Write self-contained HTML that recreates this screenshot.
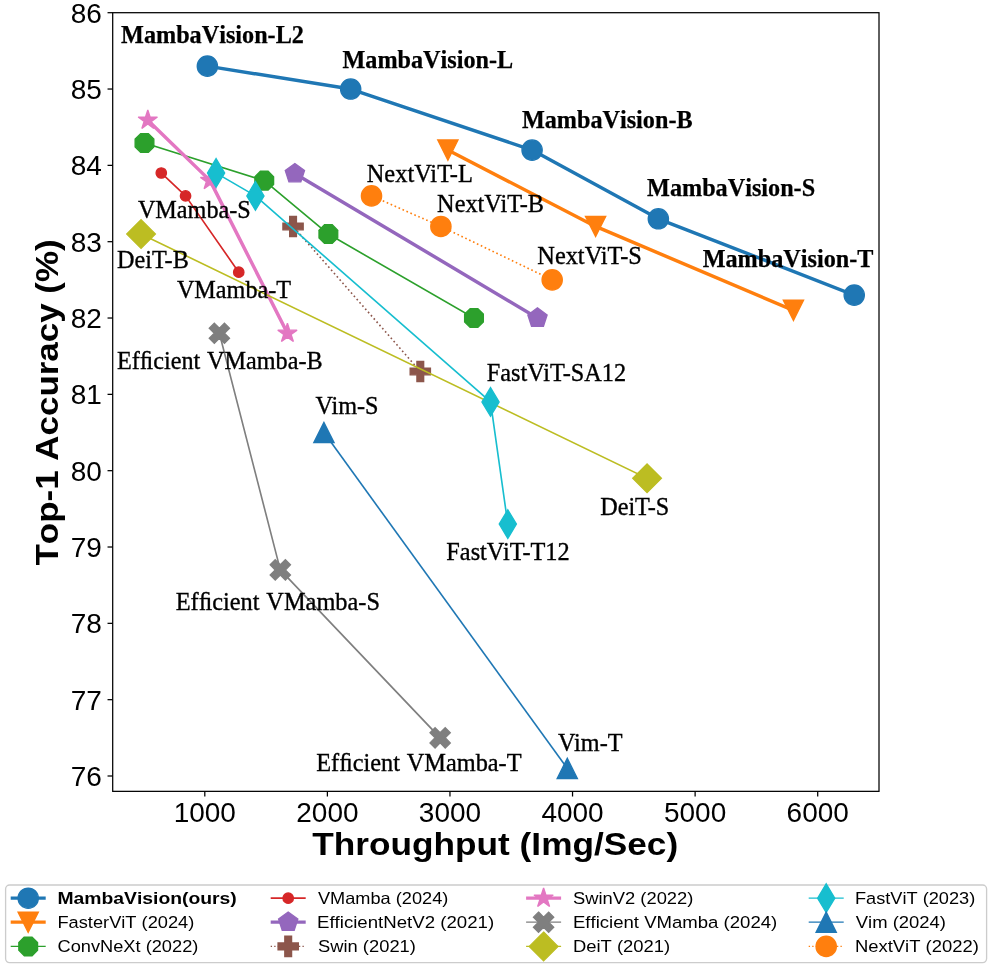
<!DOCTYPE html>
<html><head><meta charset="utf-8"><title>chart</title>
<style>html,body{margin:0;padding:0;background:#fff}svg{display:block;will-change:transform}text{white-space:pre;font-kerning:none}.k{font-kerning:normal;stroke:#000;stroke-width:0.35px}.kb{stroke:#000;stroke-width:0.25px}</style>
</head><body>
<svg width="993" height="967" viewBox="0 0 993 967">
<rect width="993" height="967" fill="#fff"/>
<clipPath id="c"><rect x="112.7" y="12.7" width="766.3" height="778.65"/></clipPath>
<g clip-path="url(#c)">
<path d="M854.23 295.12 L658.35 218.79 L532.09 150.09 L350.67 89.03 L207.37 66.13" fill="none" stroke="#1f77b4" stroke-width="3.47" stroke-linejoin="round" stroke-linecap="square"/>
<circle cx="854.23" cy="295.12" r="10.13" fill="#1f77b4" stroke="#1f77b4" stroke-width="1.33"/>
<circle cx="658.35" cy="218.79" r="10.13" fill="#1f77b4" stroke="#1f77b4" stroke-width="1.33"/>
<circle cx="532.09" cy="150.09" r="10.13" fill="#1f77b4" stroke="#1f77b4" stroke-width="1.33"/>
<circle cx="350.67" cy="89.03" r="10.13" fill="#1f77b4" stroke="#1f77b4" stroke-width="1.33"/>
<circle cx="207.37" cy="66.13" r="10.13" fill="#1f77b4" stroke="#1f77b4" stroke-width="1.33"/>
<path d="M793.43 310.39 L595.59 226.42 L447.88 150.09" fill="none" stroke="#ff7f0e" stroke-width="3.47" stroke-linejoin="round" stroke-linecap="square"/>
<polygon points="793.43,320.52 783.30,300.25 803.56,300.25" fill="#ff7f0e" stroke="#ff7f0e" stroke-width="1.33" stroke-linejoin="miter"/>
<polygon points="595.59,236.56 585.45,216.29 605.72,216.29" fill="#ff7f0e" stroke="#ff7f0e" stroke-width="1.33" stroke-linejoin="miter"/>
<polygon points="447.88,160.23 437.74,139.96 458.01,139.96" fill="#ff7f0e" stroke="#ff7f0e" stroke-width="1.33" stroke-linejoin="miter"/>
<path d="M473.99 318.02 L328.36 234.06 L264.25 180.63 L144.49 143.00" fill="none" stroke="#2ca02c" stroke-width="1.63" stroke-linejoin="round" stroke-linecap="square"/>
<polygon points="470.11,308.66 464.62,314.14 464.62,321.90 470.11,327.38 477.86,327.38 483.35,321.90 483.35,314.14 477.86,308.66" fill="#2ca02c" stroke="#2ca02c" stroke-width="1.33" stroke-linejoin="miter"/>
<polygon points="324.48,224.70 319.00,230.18 319.00,237.93 324.48,243.42 332.24,243.42 337.72,237.93 337.72,230.18 332.24,224.70" fill="#2ca02c" stroke="#2ca02c" stroke-width="1.33" stroke-linejoin="miter"/>
<polygon points="260.37,171.26 254.89,176.75 254.89,184.50 260.37,189.99 268.13,189.99 273.61,184.50 273.61,176.75 268.13,171.26" fill="#2ca02c" stroke="#2ca02c" stroke-width="1.33" stroke-linejoin="miter"/>
<polygon points="140.61,133.63 135.13,139.12 135.13,146.87 140.61,152.36 148.37,152.36 153.85,146.87 153.85,139.12 148.37,133.63" fill="#2ca02c" stroke="#2ca02c" stroke-width="1.33" stroke-linejoin="miter"/>
<path d="M238.75 272.22 L185.55 195.89 L161.28 172.99" fill="none" stroke="#d62728" stroke-width="1.67" stroke-linejoin="round" stroke-linecap="square"/>
<circle cx="238.75" cy="272.22" r="5.20" fill="#d62728" stroke="#d62728" stroke-width="1.33"/>
<circle cx="185.55" cy="195.89" r="5.20" fill="#d62728" stroke="#d62728" stroke-width="1.33"/>
<circle cx="161.28" cy="172.99" r="5.20" fill="#d62728" stroke="#d62728" stroke-width="1.33"/>
<path d="M537.48 318.02 L294.90 173.60" fill="none" stroke="#9467bd" stroke-width="3.47" stroke-linejoin="round" stroke-linecap="square"/>
<polygon points="537.48,307.89 527.84,314.89 531.53,326.22 543.44,326.22 547.12,314.89" fill="#9467bd" stroke="#9467bd" stroke-width="1.33" stroke-linejoin="miter"/>
<polygon points="294.90,163.47 285.26,170.47 288.94,181.80 300.85,181.80 304.53,170.47" fill="#9467bd" stroke="#9467bd" stroke-width="1.33" stroke-linejoin="miter"/>
<path d="M420.30 371.45 L293.06 226.42" fill="none" stroke="#8c564b" stroke-width="1.63" stroke-linejoin="round" stroke-linecap="butt" stroke-dasharray="1.63 2.68"/>
<polygon points="416.92,361.32 423.67,361.32 423.67,368.07 430.43,368.07 430.43,374.83 423.67,374.83 423.67,381.58 416.92,381.58 416.92,374.83 410.16,374.83 410.16,368.07 416.92,368.07" fill="#8c564b" stroke="#8c564b" stroke-width="1.33" stroke-linejoin="miter"/>
<polygon points="289.68,216.29 296.44,216.29 296.44,223.05 303.19,223.05 303.19,229.80 296.44,229.80 296.44,236.56 289.68,236.56 289.68,229.80 282.92,229.80 282.92,223.05 289.68,223.05" fill="#8c564b" stroke="#8c564b" stroke-width="1.33" stroke-linejoin="miter"/>
<path d="M287.42 333.29 L210.07 180.63 L147.80 120.17" fill="none" stroke="#e377c2" stroke-width="3.47" stroke-linejoin="round" stroke-linecap="square"/>
<polygon points="287.42,323.15 285.14,330.15 277.78,330.15 283.74,334.48 281.46,341.48 287.42,337.16 293.38,341.48 291.10,334.48 297.06,330.15 289.69,330.15" fill="#e377c2" stroke="#e377c2" stroke-width="1.33" stroke-linejoin="bevel"/>
<polygon points="210.07,170.49 207.80,177.49 200.43,177.49 206.39,181.82 204.11,188.82 210.07,184.50 216.03,188.82 213.75,181.82 219.71,177.49 212.35,177.49" fill="#e377c2" stroke="#e377c2" stroke-width="1.33" stroke-linejoin="bevel"/>
<polygon points="147.80,110.04 145.53,117.04 138.16,117.04 144.12,121.37 141.84,128.37 147.80,124.04 153.76,128.37 151.48,121.37 157.44,117.04 150.08,117.04" fill="#e377c2" stroke="#e377c2" stroke-width="1.33" stroke-linejoin="bevel"/>
<path d="M440.15 737.84 L280.31 569.91 L219.39 333.29" fill="none" stroke="#7f7f7f" stroke-width="1.63" stroke-linejoin="round" stroke-linecap="square"/>
<polygon points="435.09,727.70 440.15,732.77 445.22,727.70 450.29,732.77 445.22,737.84 450.29,742.90 445.22,747.97 440.15,742.90 435.09,747.97 430.02,742.90 435.09,737.84 430.02,732.77" fill="#7f7f7f" stroke="#7f7f7f" stroke-width="1.33" stroke-linejoin="miter"/>
<polygon points="275.24,559.78 280.31,564.84 285.38,559.78 290.44,564.84 285.38,569.91 290.44,574.98 285.38,580.04 280.31,574.98 275.24,580.04 270.18,574.98 275.24,569.91 270.18,564.84" fill="#7f7f7f" stroke="#7f7f7f" stroke-width="1.33" stroke-linejoin="miter"/>
<polygon points="214.32,323.15 219.39,328.22 224.45,323.15 229.52,328.22 224.45,333.29 229.52,338.35 224.45,343.42 219.39,338.35 214.32,343.42 209.25,338.35 214.32,333.29 209.25,328.22" fill="#7f7f7f" stroke="#7f7f7f" stroke-width="1.33" stroke-linejoin="miter"/>
<path d="M647.07 478.31 L141.06 234.06" fill="none" stroke="#bcbd22" stroke-width="1.63" stroke-linejoin="round" stroke-linecap="square"/>
<polygon points="647.07,463.98 661.40,478.31 647.07,492.64 632.74,478.31" fill="#bcbd22" stroke="#bcbd22" stroke-width="1.33" stroke-linejoin="miter"/>
<polygon points="141.06,219.73 155.39,234.06 141.06,248.39 126.73,234.06" fill="#bcbd22" stroke="#bcbd22" stroke-width="1.33" stroke-linejoin="miter"/>
<path d="M507.82 524.11 L490.53 401.98 L255.43 195.89 L216.08 172.99" fill="none" stroke="#17becf" stroke-width="1.63" stroke-linejoin="round" stroke-linecap="square"/>
<polygon points="507.82,509.78 516.42,524.11 507.82,538.44 499.22,524.11" fill="#17becf" stroke="#17becf" stroke-width="1.33" stroke-linejoin="miter"/>
<polygon points="490.53,387.65 499.13,401.98 490.53,416.31 481.94,401.98" fill="#17becf" stroke="#17becf" stroke-width="1.33" stroke-linejoin="miter"/>
<polygon points="255.43,181.56 264.02,195.89 255.43,210.22 246.83,195.89" fill="#17becf" stroke="#17becf" stroke-width="1.33" stroke-linejoin="miter"/>
<polygon points="216.08,158.66 224.68,172.99 216.08,187.32 207.48,172.99" fill="#17becf" stroke="#17becf" stroke-width="1.33" stroke-linejoin="miter"/>
<path d="M567.27 768.37 L323.95 432.51" fill="none" stroke="#1f77b4" stroke-width="1.63" stroke-linejoin="round" stroke-linecap="square"/>
<polygon points="567.27,758.23 557.14,778.50 577.40,778.50" fill="#1f77b4" stroke="#1f77b4" stroke-width="1.33" stroke-linejoin="miter"/>
<polygon points="323.95,422.38 313.81,442.65 334.08,442.65" fill="#1f77b4" stroke="#1f77b4" stroke-width="1.33" stroke-linejoin="miter"/>
<path d="M552.19 279.86 L440.89 226.42 L371.51 195.89" fill="none" stroke="#ff7f0e" stroke-width="1.63" stroke-linejoin="round" stroke-linecap="butt" stroke-dasharray="1.63 2.68"/>
<circle cx="552.19" cy="279.86" r="10.13" fill="#ff7f0e" stroke="#ff7f0e" stroke-width="1.33"/>
<circle cx="440.89" cy="226.42" r="10.13" fill="#ff7f0e" stroke="#ff7f0e" stroke-width="1.33"/>
<circle cx="371.51" cy="195.89" r="10.13" fill="#ff7f0e" stroke="#ff7f0e" stroke-width="1.33"/>
</g>
<rect x="112.7" y="12.7" width="766.3" height="778.65" fill="none" stroke="#000" stroke-width="1.25"/>
<line x1="107.53" x2="112.7" y1="776.00" y2="776.00" stroke="#000" stroke-width="1.25"/>
<line x1="107.53" x2="112.7" y1="699.67" y2="699.67" stroke="#000" stroke-width="1.25"/>
<line x1="107.53" x2="112.7" y1="623.34" y2="623.34" stroke="#000" stroke-width="1.25"/>
<line x1="107.53" x2="112.7" y1="547.01" y2="547.01" stroke="#000" stroke-width="1.25"/>
<line x1="107.53" x2="112.7" y1="470.68" y2="470.68" stroke="#000" stroke-width="1.25"/>
<line x1="107.53" x2="112.7" y1="394.35" y2="394.35" stroke="#000" stroke-width="1.25"/>
<line x1="107.53" x2="112.7" y1="318.02" y2="318.02" stroke="#000" stroke-width="1.25"/>
<line x1="107.53" x2="112.7" y1="241.69" y2="241.69" stroke="#000" stroke-width="1.25"/>
<line x1="107.53" x2="112.7" y1="165.36" y2="165.36" stroke="#000" stroke-width="1.25"/>
<line x1="107.53" x2="112.7" y1="89.03" y2="89.03" stroke="#000" stroke-width="1.25"/>
<line x1="107.53" x2="112.7" y1="12.70" y2="12.70" stroke="#000" stroke-width="1.25"/>
<line x1="204.80" x2="204.80" y1="791.35" y2="796.52" stroke="#000" stroke-width="1.25"/>
<line x1="327.38" x2="327.38" y1="791.35" y2="796.52" stroke="#000" stroke-width="1.25"/>
<line x1="449.96" x2="449.96" y1="791.35" y2="796.52" stroke="#000" stroke-width="1.25"/>
<line x1="572.54" x2="572.54" y1="791.35" y2="796.52" stroke="#000" stroke-width="1.25"/>
<line x1="695.12" x2="695.12" y1="791.35" y2="796.52" stroke="#000" stroke-width="1.25"/>
<line x1="817.70" x2="817.70" y1="791.35" y2="796.52" stroke="#000" stroke-width="1.25"/>
<text transform="translate(101.80 785.90) scale(1.0000 1.0100)" font-family="'Liberation Sans', sans-serif" font-size="28" font-weight="normal" text-anchor="end" fill="#000">76</text>
<text transform="translate(101.80 709.57) scale(1.0000 1.0100)" font-family="'Liberation Sans', sans-serif" font-size="28" font-weight="normal" text-anchor="end" fill="#000">77</text>
<text transform="translate(101.80 633.24) scale(1.0000 1.0100)" font-family="'Liberation Sans', sans-serif" font-size="28" font-weight="normal" text-anchor="end" fill="#000">78</text>
<text transform="translate(101.80 556.91) scale(1.0000 1.0100)" font-family="'Liberation Sans', sans-serif" font-size="28" font-weight="normal" text-anchor="end" fill="#000">79</text>
<text transform="translate(101.80 480.58) scale(1.0000 1.0100)" font-family="'Liberation Sans', sans-serif" font-size="28" font-weight="normal" text-anchor="end" fill="#000">80</text>
<text transform="translate(101.80 404.25) scale(1.0000 1.0100)" font-family="'Liberation Sans', sans-serif" font-size="28" font-weight="normal" text-anchor="end" fill="#000">81</text>
<text transform="translate(101.80 327.92) scale(1.0000 1.0100)" font-family="'Liberation Sans', sans-serif" font-size="28" font-weight="normal" text-anchor="end" fill="#000">82</text>
<text transform="translate(101.80 251.59) scale(1.0000 1.0100)" font-family="'Liberation Sans', sans-serif" font-size="28" font-weight="normal" text-anchor="end" fill="#000">83</text>
<text transform="translate(101.80 175.26) scale(1.0000 1.0100)" font-family="'Liberation Sans', sans-serif" font-size="28" font-weight="normal" text-anchor="end" fill="#000">84</text>
<text transform="translate(101.80 98.93) scale(1.0000 1.0100)" font-family="'Liberation Sans', sans-serif" font-size="28" font-weight="normal" text-anchor="end" fill="#000">85</text>
<text transform="translate(101.80 22.60) scale(1.0000 1.0100)" font-family="'Liberation Sans', sans-serif" font-size="28" font-weight="normal" text-anchor="end" fill="#000">86</text>
<text transform="translate(204.80 821.70) scale(1.0000 1.0100)" font-family="'Liberation Sans', sans-serif" font-size="28" font-weight="normal" text-anchor="middle" fill="#000">1000</text>
<text transform="translate(327.38 821.70) scale(1.0000 1.0100)" font-family="'Liberation Sans', sans-serif" font-size="28" font-weight="normal" text-anchor="middle" fill="#000">2000</text>
<text transform="translate(449.96 821.70) scale(1.0000 1.0100)" font-family="'Liberation Sans', sans-serif" font-size="28" font-weight="normal" text-anchor="middle" fill="#000">3000</text>
<text transform="translate(572.54 821.70) scale(1.0000 1.0100)" font-family="'Liberation Sans', sans-serif" font-size="28" font-weight="normal" text-anchor="middle" fill="#000">4000</text>
<text transform="translate(695.12 821.70) scale(1.0000 1.0100)" font-family="'Liberation Sans', sans-serif" font-size="28" font-weight="normal" text-anchor="middle" fill="#000">5000</text>
<text transform="translate(817.70 821.70) scale(1.0000 1.0100)" font-family="'Liberation Sans', sans-serif" font-size="28" font-weight="normal" text-anchor="middle" fill="#000">6000</text>
<text transform="translate(495.20 854.80) scale(1.2030 1.0450)" font-family="'Liberation Sans', sans-serif" font-size="29.3" font-weight="bold" text-anchor="middle" fill="#000">Throughput (Img/Sec)</text>
<text transform="translate(57.60 402.40) rotate(-90) scale(1.1930 1.0450)" font-family="'Liberation Sans', sans-serif" font-size="29.3" font-weight="bold" text-anchor="middle" fill="#000">Top-1 Accuracy (%)</text>
<text class="kb" transform="translate(121.10 43.10)" font-family="'Liberation Serif', serif" font-size="24.2" font-weight="bold" text-anchor="start" fill="#000">MambaVision-L2</text>
<text class="kb" transform="translate(342.50 68.30)" font-family="'Liberation Serif', serif" font-size="24.2" font-weight="bold" text-anchor="start" fill="#000">MambaVision-L</text>
<text class="kb" transform="translate(521.90 128.30)" font-family="'Liberation Serif', serif" font-size="24.2" font-weight="bold" text-anchor="start" fill="#000">MambaVision-B</text>
<text class="kb" transform="translate(647.10 196.00)" font-family="'Liberation Serif', serif" font-size="24.2" font-weight="bold" text-anchor="start" fill="#000">MambaVision-S</text>
<text class="kb" transform="translate(702.70 266.50)" font-family="'Liberation Serif', serif" font-size="24.2" font-weight="bold" text-anchor="start" fill="#000">MambaVision-T</text>
<text class="k" transform="translate(366.70 181.50) scale(1.0100 1.0000)" font-family="'Liberation Serif', serif" font-size="24.2" font-weight="normal" text-anchor="start" fill="#000">NextViT-L</text>
<text class="k" transform="translate(437.10 211.70) scale(1.0040 1.0000)" font-family="'Liberation Serif', serif" font-size="24.2" font-weight="normal" text-anchor="start" fill="#000">NextViT-B</text>
<text class="k" transform="translate(537.30 263.80) scale(1.0070 1.0000)" font-family="'Liberation Serif', serif" font-size="24.2" font-weight="normal" text-anchor="start" fill="#000">NextViT-S</text>
<text class="k" transform="translate(137.90 217.70)" font-family="'Liberation Serif', serif" font-size="24.2" font-weight="normal" text-anchor="start" fill="#000">VMamba-S</text>
<text class="k" transform="translate(117.10 268.30)" font-family="'Liberation Serif', serif" font-size="24.2" font-weight="normal" text-anchor="start" fill="#000">DeiT-B</text>
<text class="k" transform="translate(176.90 298.30)" font-family="'Liberation Serif', serif" font-size="24.2" font-weight="normal" text-anchor="start" fill="#000">VMamba-T</text>
<text class="k" transform="translate(117.00 368.80)" font-family="'Liberation Serif', serif" font-size="24.2" font-weight="normal" text-anchor="start" fill="#000" word-spacing="1.2">Efﬁcient VMamba-B</text>
<text class="k" transform="translate(486.80 380.80) scale(1.0040 1.0000)" font-family="'Liberation Serif', serif" font-size="24.2" font-weight="normal" text-anchor="start" fill="#000">FastViT-SA12</text>
<text class="k" transform="translate(315.50 413.80)" font-family="'Liberation Serif', serif" font-size="24.2" font-weight="normal" text-anchor="start" fill="#000">Vim-S</text>
<text class="k" transform="translate(600.20 515.00)" font-family="'Liberation Serif', serif" font-size="24.2" font-weight="normal" text-anchor="start" fill="#000">DeiT-S</text>
<text class="k" transform="translate(446.30 560.00) scale(1.0060 1.0000)" font-family="'Liberation Serif', serif" font-size="24.2" font-weight="normal" text-anchor="start" fill="#000">FastViT-T12</text>
<text class="k" transform="translate(175.70 610.10) scale(1.0060 1.0000)" font-family="'Liberation Serif', serif" font-size="24.2" font-weight="normal" text-anchor="start" fill="#000" word-spacing="1.2">Efﬁcient VMamba-S</text>
<text class="k" transform="translate(316.20 770.90) scale(1.0050 1.0000)" font-family="'Liberation Serif', serif" font-size="24.2" font-weight="normal" text-anchor="start" fill="#000" word-spacing="1.2">Efﬁcient VMamba-T</text>
<text class="k" transform="translate(558.10 750.90)" font-family="'Liberation Serif', serif" font-size="24.2" font-weight="normal" text-anchor="start" fill="#000">Vim-T</text>
<rect x="5.6" y="885" width="981" height="77.6" rx="4" fill="#fff" stroke="#cccccc" stroke-width="1.33"/>
<line x1="10.70" x2="45.70" y1="898.2" y2="898.2" stroke="#1f77b4" stroke-width="3.33"/>
<circle cx="28.20" cy="898.20" r="10.13" fill="#1f77b4" stroke="#1f77b4" stroke-width="1.33"/>
<text transform="translate(57.47 904.00) scale(1.2093 1.0200)" font-family="'Liberation Sans', sans-serif" font-size="16" font-weight="bold" text-anchor="start" fill="#000">MambaVision(ours)</text>
<line x1="10.70" x2="45.70" y1="922.2" y2="922.2" stroke="#ff7f0e" stroke-width="3.33"/>
<polygon points="28.20,932.33 18.07,912.07 38.33,912.07" fill="#ff7f0e" stroke="#ff7f0e" stroke-width="1.33" stroke-linejoin="miter"/>
<text transform="translate(57.48 928.00) scale(1.1404 1.0200)" font-family="'Liberation Sans', sans-serif" font-size="16" font-weight="normal" text-anchor="start" fill="#000">FasterViT (2024)</text>
<line x1="10.70" x2="45.70" y1="946.4" y2="946.4" stroke="#2ca02c" stroke-width="1.33"/>
<polygon points="24.32,937.04 18.84,942.52 18.84,950.28 24.32,955.76 32.08,955.76 37.56,950.28 37.56,942.52 32.08,937.04" fill="#2ca02c" stroke="#2ca02c" stroke-width="1.33" stroke-linejoin="miter"/>
<text transform="translate(57.50 952.20) scale(1.1400 1.0200)" font-family="'Liberation Sans', sans-serif" font-size="16" font-weight="normal" text-anchor="start" fill="#000">ConvNeXt (2022)</text>
<line x1="270.70" x2="305.70" y1="898.2" y2="898.2" stroke="#d62728" stroke-width="1.67"/>
<circle cx="288.20" cy="898.20" r="5.20" fill="#d62728" stroke="#d62728" stroke-width="1.33"/>
<text transform="translate(318.00 904.00) scale(1.1365 1.0200)" font-family="'Liberation Sans', sans-serif" font-size="16" font-weight="normal" text-anchor="start" fill="#000">VMamba (2024)</text>
<line x1="270.70" x2="305.70" y1="922.2" y2="922.2" stroke="#9467bd" stroke-width="3.33"/>
<polygon points="288.20,912.07 278.56,919.07 282.24,930.40 294.16,930.40 297.84,919.07" fill="#9467bd" stroke="#9467bd" stroke-width="1.33" stroke-linejoin="miter"/>
<text transform="translate(316.96 928.00) scale(1.1653 1.0200)" font-family="'Liberation Sans', sans-serif" font-size="16" font-weight="normal" text-anchor="start" fill="#000">EfficientNetV2 (2021)</text>
<line x1="270.70" x2="305.70" y1="946.4" y2="946.4" stroke="#8c564b" stroke-width="1.33" stroke-dasharray="1.33 2.20"/>
<polygon points="284.82,936.27 291.58,936.27 291.58,943.02 298.33,943.02 298.33,949.78 291.58,949.78 291.58,956.53 284.82,956.53 284.82,949.78 278.07,949.78 278.07,943.02 284.82,943.02" fill="#8c564b" stroke="#8c564b" stroke-width="1.33" stroke-linejoin="miter"/>
<text transform="translate(317.99 952.20) scale(1.1474 1.0200)" font-family="'Liberation Sans', sans-serif" font-size="16" font-weight="normal" text-anchor="start" fill="#000">Swin (2021)</text>
<line x1="526.10" x2="561.10" y1="898.2" y2="898.2" stroke="#e377c2" stroke-width="3.33"/>
<polygon points="543.60,888.07 541.32,895.07 533.96,895.07 539.92,899.40 537.64,906.40 543.60,902.07 549.56,906.40 547.28,899.40 553.24,895.07 545.88,895.07" fill="#e377c2" stroke="#e377c2" stroke-width="1.33" stroke-linejoin="bevel"/>
<text transform="translate(573.00 904.00) scale(1.1476 1.0200)" font-family="'Liberation Sans', sans-serif" font-size="16" font-weight="normal" text-anchor="start" fill="#000">SwinV2 (2022)</text>
<line x1="526.10" x2="561.10" y1="922.2" y2="922.2" stroke="#7f7f7f" stroke-width="1.33"/>
<polygon points="538.53,912.07 543.60,917.13 548.67,912.07 553.73,917.13 548.67,922.20 553.73,927.27 548.67,932.33 543.60,927.27 538.53,932.33 533.47,927.27 538.53,922.20 533.47,917.13" fill="#7f7f7f" stroke="#7f7f7f" stroke-width="1.33" stroke-linejoin="miter"/>
<text transform="translate(572.99 928.00) scale(1.1606 1.0200)" font-family="'Liberation Sans', sans-serif" font-size="16" font-weight="normal" text-anchor="start" fill="#000">Efficient VMamba (2024)</text>
<line x1="526.10" x2="561.10" y1="946.4" y2="946.4" stroke="#bcbd22" stroke-width="1.33"/>
<polygon points="543.60,932.07 557.93,946.40 543.60,960.73 529.27,946.40" fill="#bcbd22" stroke="#bcbd22" stroke-width="1.33" stroke-linejoin="miter"/>
<text transform="translate(572.99 952.20) scale(1.1521 1.0200)" font-family="'Liberation Sans', sans-serif" font-size="16" font-weight="normal" text-anchor="start" fill="#000">DeiT (2021)</text>
<line x1="808.70" x2="843.70" y1="898.2" y2="898.2" stroke="#17becf" stroke-width="1.33"/>
<polygon points="826.20,883.87 834.80,898.20 826.20,912.53 817.60,898.20" fill="#17becf" stroke="#17becf" stroke-width="1.33" stroke-linejoin="miter"/>
<text transform="translate(855.01 904.00) scale(1.1380 1.0200)" font-family="'Liberation Sans', sans-serif" font-size="16" font-weight="normal" text-anchor="start" fill="#000">FastViT (2023)</text>
<line x1="808.70" x2="843.70" y1="922.2" y2="922.2" stroke="#1f77b4" stroke-width="1.33"/>
<polygon points="826.20,912.07 816.07,932.33 836.33,932.33" fill="#1f77b4" stroke="#1f77b4" stroke-width="1.33" stroke-linejoin="miter"/>
<text transform="translate(855.80 928.00) scale(1.1530 1.0200)" font-family="'Liberation Sans', sans-serif" font-size="16" font-weight="normal" text-anchor="start" fill="#000">Vim (2024)</text>
<line x1="808.70" x2="843.70" y1="946.4" y2="946.4" stroke="#ff7f0e" stroke-width="1.33" stroke-dasharray="1.33 2.20"/>
<circle cx="826.20" cy="946.40" r="10.13" fill="#ff7f0e" stroke="#ff7f0e" stroke-width="1.33"/>
<text transform="translate(854.97 952.20) scale(1.1515 1.0200)" font-family="'Liberation Sans', sans-serif" font-size="16" font-weight="normal" text-anchor="start" fill="#000">NextViT (2022)</text>
</svg>
</body></html>
